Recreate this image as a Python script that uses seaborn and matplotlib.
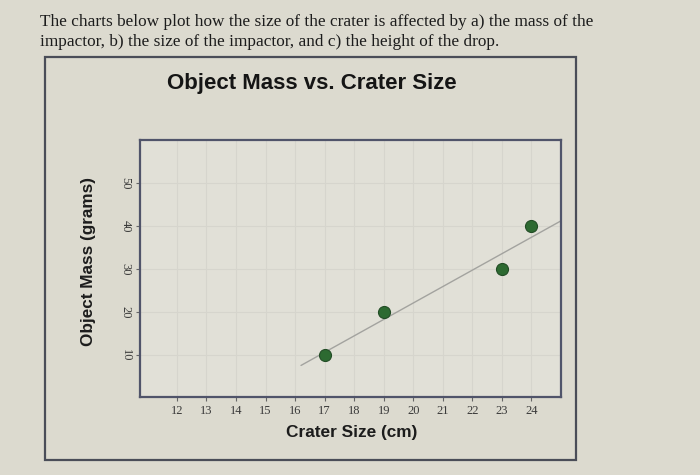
import numpy as np
import pandas as pd
import matplotlib
matplotlib.use("Agg")
import matplotlib.pyplot as plt
import matplotlib.patches as mpatches
import seaborn as sns

# ---- data ----
crater_size = [17, 19, 23, 24]
object_mass = [10, 20, 30, 40]
x_ticks = [12, 13, 14, 15, 16, 17, 18, 19, 20, 21, 22, 23, 24]
y_ticks = [10, 20, 30, 40, 50]
intro_text = ("The charts below plot how the size of the crater is affected by a) the mass of the\n"
              "impactor, b) the size of the impactor, and c) the height of the drop.")
chart_title = "Object Mass vs. Crater Size"
x_label = "Crater Size (cm)"
y_label = "Object Mass (grams)"

df = pd.DataFrame({"size": crater_size, "mass": object_mass})

sns.set_theme(style="white")
paper = "#dcdacf"
plt.rcParams["font.family"] = ["DejaVu Sans"]

fig = plt.figure(figsize=(7, 4.75), dpi=100, facecolor=paper)

# intro text (serif)
fig.text(40 / 700, 1 - 14 / 475, intro_text, ha="left", va="top",
         family="Liberation Serif", fontsize=12.4, color="#1c1c1c", linespacing=1.35)

# outer chart box
box = mpatches.Rectangle((45 / 700, 1 - 460 / 475), (576 - 45) / 700, (460 - 57) / 475,
                         transform=fig.transFigure, fill=False, edgecolor="#4a4d58", lw=1.6)
fig.patches.append(box)

fig.text(312 / 700, 1 - 83 / 475, chart_title, ha="center", va="center",
         family="Liberation Sans", fontweight="bold", fontsize=16, color="#151515")

ax = fig.add_axes([140 / 700, 1 - 397 / 475, (561 - 140) / 700, (397 - 140) / 475])
ax.set_facecolor("#e1e0d7")

# trend line from least squares fit of the data
slope, intercept = np.polyfit(df["size"], df["mass"], 1)
line_x = np.linspace(16.2, 25, 20)
sns.lineplot(x=line_x, y=slope * line_x + intercept, ax=ax, color="#a3a39f", lw=1.0)

sns.scatterplot(data=df, x="size", y="mass", ax=ax, s=75, color="#2d6a31",
                edgecolor="#234d26", linewidth=0.8, zorder=3)

ax.set_xlim(10.75, 25)
ax.set_ylim(0.3, 60)
ax.set_xticks(x_ticks)
ax.set_yticks(y_ticks)
ax.set_xticklabels([str(v) for v in x_ticks], family="Liberation Serif", fontsize=9, color="#3a3a3a")
ax.set_yticklabels([str(v) for v in y_ticks], family="Liberation Serif", fontsize=9, color="#3a3a3a",
                   rotation=-90, va="center")
ax.tick_params(axis="both", length=3, width=0.8, color="#666", direction="out", pad=3,
               bottom=True, left=True)
ax.grid(True, color="#d6d5cd", lw=0.8)
for sp in ax.spines.values():
    sp.set_color("#50546a")
    sp.set_linewidth(1.6)

ax.set_xlabel("")
ax.set_ylabel("")
fig.text(352 / 700, 1 - 433 / 475, x_label, ha="center", va="center",
         family="Liberation Sans", fontweight="bold", fontsize=12.4, color="#1c1c1c")
fig.text(88 / 700, 1 - 262 / 475, y_label, ha="center", va="center", rotation=90,
         family="Liberation Sans", fontweight="bold", fontsize=12.3, color="#1c1c1c")

fig.savefig("out.png", dpi=100, facecolor=paper)
